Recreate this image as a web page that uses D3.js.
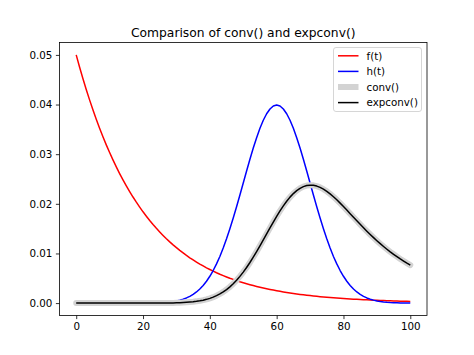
<!DOCTYPE html>
<html>
<head>
<meta charset="utf-8">
<script src="https://cdn.jsdelivr.net/npm/d3@7"></script>
<style>
  html, body { margin: 0; padding: 0; background: #fff; }
  svg { display: block; font-family: "DejaVu Sans", sans-serif; }
</style>
</head>
<body>
<svg id="chart" width="474" height="355"></svg>
<script>
// ---- data ----
const tValues = d3.range(0, 101); // t = 0..100, step 1

const fValues = [0.05000,0.04756,0.04524,0.04304,0.04094,0.03894,0.03704,0.03523,0.03352,0.03188,
0.03033,0.02885,0.02744,0.02610,0.02483,0.02362,0.02247,0.02137,0.02033,0.01934,
0.01839,0.01750,0.01664,0.01583,0.01506,0.01433,0.01363,0.01296,0.01233,0.01173,
0.01116,0.01061,0.01010,0.00960,0.00913,0.00869,0.00827,0.00786,0.00748,0.00711,
0.00677,0.00644,0.00612,0.00582,0.00554,0.00527,0.00501,0.00477,0.00454,0.00431,
0.00410,0.00390,0.00371,0.00353,0.00336,0.00320,0.00304,0.00289,0.00275,0.00262,
0.00249,0.00237,0.00225,0.00214,0.00204,0.00194,0.00184,0.00175,0.00167,0.00159,
0.00151,0.00144,0.00137,0.00130,0.00124,0.00118,0.00112,0.00106,0.00101,0.00096,
0.00092,0.00087,0.00083,0.00079,0.00075,0.00071,0.00068,0.00065,0.00061,0.00058,
0.00056,0.00053,0.00050,0.00048,0.00045,0.00043,0.00041,0.00039,0.00037,0.00035,
0.00034];

const hValues = [0,0,0,0,0,0,0,0,0,0,
0,0,0,0,0,0,0,0,0,0,
0.00001,0.00002,0.00003,0.00004,0.00006,0.00009,0.00012,0.00017,0.00024,0.00033,
0.00044,0.00060,0.00079,0.00104,0.00136,0.00175,0.00224,0.00283,0.00355,0.00440,
0.00540,0.00656,0.00789,0.00940,0.01109,0.01295,0.01497,0.01714,0.01942,0.02179,
0.02420,0.02661,0.02897,0.03123,0.03332,0.03521,0.03683,0.03814,0.03910,0.03970,
0.03989,0.03970,0.03910,0.03814,0.03683,0.03521,0.03332,0.03123,0.02897,0.02661,
0.02420,0.02179,0.01942,0.01714,0.01497,0.01295,0.01109,0.00940,0.00789,0.00656,
0.00540,0.00440,0.00355,0.00283,0.00224,0.00175,0.00136,0.00104,0.00079,0.00060,
0.00044,0.00033,0.00024,0.00017,0.00012,0.00009,0.00006,0.00004,0.00003,0.00002,
0.00001];

const convValues = [0,0,0,0,0,0,0,0,0,0,
0,0,0,0,0,0,0,0,0,0,
0.000001,0.000002,0.000003,0.000005,0.000007,0.000010,0.000015,0.000021,0.000030,0.000042,
0.000059,0.000081,0.000111,0.000150,0.000201,0.000267,0.000352,0.000458,0.000591,0.000754,
0.000956,0.001201,0.001494,0.001843,0.002252,0.002729,0.003277,0.003899,0.004601,0.005381,
0.006241,0.007176,0.008182,0.009252,0.010376,0.011543,0.012737,0.013946,0.015151,0.016335,
0.017481,0.018571,0.019588,0.020517,0.021346,0.022062,0.022658,0.023127,0.023467,0.023678,
0.023761,0.023724,0.023571,0.023312,0.022957,0.022517,0.022004,0.021430,0.020805,0.020142,
0.019450,0.018740,0.018019,0.017294,0.016575,0.015863,0.015166,0.014484,0.013821,0.013182,
0.012563,0.011969,0.011399,0.010853,0.010331,0.009833,0.009357,0.008902,0.008471,0.008057,
0.007666];

const expconvValues = convValues.slice();

const xTicks = [0, 20, 40, 60, 80, 100];
const yTicks = [0.00, 0.01, 0.02, 0.03, 0.04, 0.05];
const seriesNames = ["f(t)", "h(t)", "conv()", "expconv()"];
const titleText = "Comparison of conv() and expconv()";

// ---- layout ----
const svg = d3.select("#chart");
const L = 59.5, R = 427, T = 42.5, B = 315.5;
const x = d3.scaleLinear().domain([-5, 105]).range([L, R]);
const y = d3.scaleLinear().domain([-0.0025, 0.0525]).range([B, T]);

const styles = [
  { color: "#ff0000", width: 1.5 },
  { color: "#0000ff", width: 1.5 },
  { color: "#d3d3d3", width: 6 },
  { color: "#000000", width: 1.5 }
];
const seriesData = [fValues, hValues, convValues, expconvValues];

// clip
svg.append("defs").append("clipPath").attr("id", "clip")
  .append("rect").attr("x", L).attr("y", T).attr("width", R - L).attr("height", B - T);

const line = d3.line().x((d, i) => x(tValues[i])).y(d => y(d));

const plot = svg.append("g").attr("clip-path", "url(#clip)");
seriesData.forEach((vals, k) => {
  plot.append("path")
    .datum(vals)
    .attr("d", line)
    .attr("fill", "none")
    .attr("stroke", styles[k].color)
    .attr("stroke-width", styles[k].width)
    .attr("stroke-linejoin", "round")
    .attr("stroke-linecap", k === 2 ? "round" : "butt");
});

// axes
const xAxis = d3.axisBottom(x).tickValues(xTicks).tickSize(3.6).tickPadding(3.5).tickFormat(d3.format("d"));
const yAxis = d3.axisLeft(y).tickValues(yTicks).tickSize(3.6).tickPadding(3.5).tickFormat(d3.format(".2f"));

const gx = svg.append("g").attr("transform", `translate(0,${B})`).call(xAxis);
const gy = svg.append("g").attr("transform", `translate(${L},0)`).call(yAxis);
[gx, gy].forEach(g => {
  g.select(".domain").remove();
  g.selectAll(".tick line").attr("stroke", "#000").attr("stroke-width", 0.8);
  g.selectAll(".tick text").attr("fill", "#000").style("font-size", "10.3px").style("font-family", "DejaVu Sans");
});

// frame
svg.append("rect").attr("x", L).attr("y", T).attr("width", R - L).attr("height", B - T)
  .attr("fill", "none").attr("stroke", "#000").attr("stroke-width", 0.8);

// title
svg.append("text").attr("x", (L + R) / 2).attr("y", 36.5)
  .attr("text-anchor", "middle").style("font-size", "12.3px").attr("fill", "#000")
  .text(titleText);

// legend
const lg = svg.append("g");
lg.append("rect").attr("x", 333.5).attr("y", 47.5).attr("width", 88).attr("height", 64)
  .attr("rx", 2.5).attr("fill", "#fff").attr("fill-opacity", 0.8)
  .attr("stroke", "#cccccc").attr("stroke-width", 0.8);
seriesNames.forEach((name, k) => {
  const yy = 55.8 + k * 15.6;
  lg.append("line").attr("x1", 338).attr("x2", 358.5).attr("y1", yy).attr("y2", yy)
    .attr("stroke", styles[k].color).attr("stroke-width", styles[k].width);
  lg.append("text").attr("x", 366.5).attr("y", yy + 3.8)
    .style("font-size", "10.3px").attr("fill", "#000").text(name);
});
</script>
</body>
</html>
